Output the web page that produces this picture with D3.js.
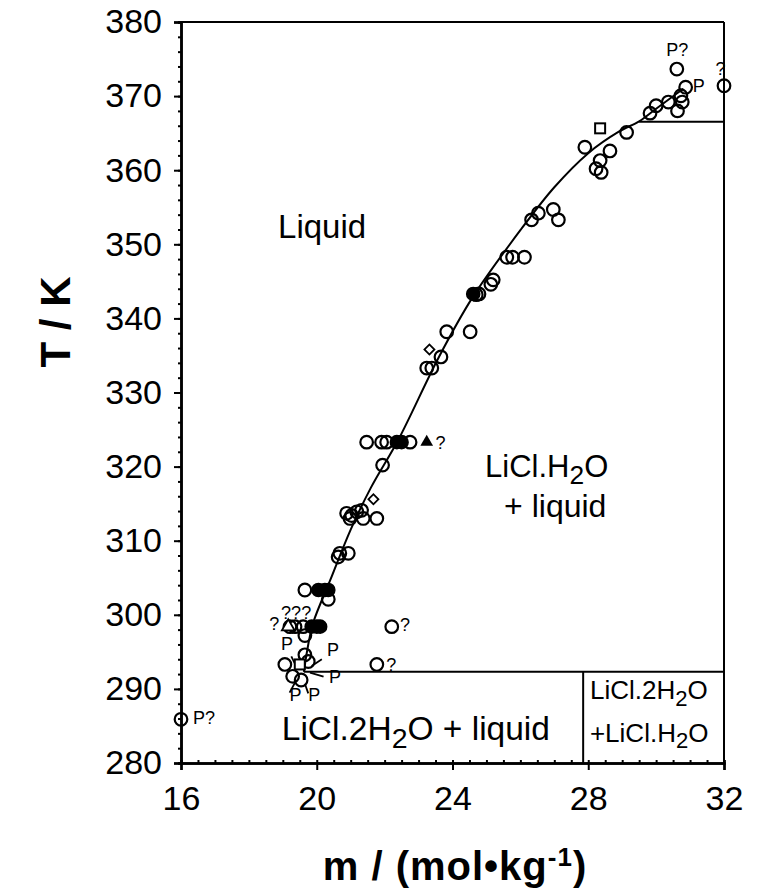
<!DOCTYPE html>
<html><head><meta charset="utf-8">
<script src="https://cdn.jsdelivr.net/npm/d3@7"></script>
<style>body{margin:0;background:#fff}svg{display:block}text{font-family:"Liberation Sans",Arial,sans-serif;fill:#000}</style>
</head><body>
<svg id="c" width="762" height="891"></svg>
<script>
// ---- data (m / mol·kg-1, T / K) ----
const xTicks = [16, 20, 24, 28, 32];
const yTicks = [280, 290, 300, 310, 320, 330, 340, 350, 360, 370, 380];
const openCircles = [
  [16.0,285.9],
  [30.61,373.65],[30.87,371.2],[30.73,370.05],[30.77,369.2],[30.63,368.0],[30.36,369.2],[30.0,368.7],[29.82,367.7],[32.0,371.4],
  [29.13,365.1],[27.9,363.1],[28.64,362.6],[28.35,361.3],[28.23,360.2],[28.38,359.7],
  [26.53,354.2],[26.33,353.3],[26.97,354.7],[27.12,353.3],
  [25.6,348.25],[25.77,348.25],[26.12,348.25],[25.2,345.2],[25.13,344.6],[24.7,343.2],[24.78,343.3],
  [24.52,338.2],[23.83,338.2],[23.66,334.8],[23.24,333.3],[23.39,333.3],
  [21.47,323.3],[21.91,323.3],[22.06,323.3],[22.75,323.3],[21.94,320.2],
  [20.88,313.7],[21.03,313.4],[21.18,313.9],[21.32,314.1],[21.37,313.0],[21.77,313.0],[20.98,313.0],
  [20.68,308.3],[20.93,308.3],[20.63,307.8],
  [19.65,303.35],[20.34,302.1],
  [19.21,298.4],[19.36,298.4],[19.6,298.4],[19.65,297.2],
  [22.21,298.4],[21.77,293.3],
  [19.06,293.3],[19.75,293.7],[19.65,294.6],[19.29,291.7],[19.54,291.2]
];
const filledCircles = [[24.61,343.3],[22.36,323.3],[22.5,323.3],[20.05,303.35],[20.24,303.35],[20.34,303.35],[19.85,298.4],[20.0,298.4],[20.1,298.4]];
const squares = [[28.35,365.65],[19.5,293.3]];
const diamonds = [[23.32,335.8],[21.67,315.6]];
const filledTriangles = [[23.24,323.3]];
const openTriangles = [[19.16,298.4]];
const liquidusCurve = [
  [19.62,292.3],[19.75,296],[19.9,299],[20.4,304.7],[21.0,311.5],[21.6,317.2],[22.4,323.6],
  [23.6,334.8],[24.6,342.9],[26.0,351.9],[27.0,357.7],[28.0,362.3],[28.9,365.2],[29.5,366.6],[30.0,368.3],[30.8,371.0]
];
const phaseLines = [
  [[19.62,292.3],[32,292.3]],
  [[29.5,366.55],[32,366.55]],
  [[27.85,280],[27.85,292.3]]
];
const pointNotes = [
  ["P?",16.35,285.3],["P?",30.3,375.4],["P",31.08,370.5],["?",31.75,372.8],
  ["?",23.5,322.4],["?",22.45,297.8],["?",22.05,292.4],
  ["?",18.6,297.9],["???",18.95,299.5],
  ["P",18.95,295.3],["P",20.3,294.5],["P",20.36,290.8],["P",19.2,288.4],["P",19.75,288.4]
];
const leaderLines = [
  [[19.25,294.4],[19.4,293.0]],
  [[20.15,294.0],[19.85,293.1]],
  [[20.2,291.65],[19.8,292.2]],
  [[19.2,289.5],[19.4,291.2]],
  [[19.75,289.4],[19.65,290.7]]
];

// ---- scales ----
const x = d3.scaleLinear().domain([16,32]).range([181,724]);
const y = d3.scaleLinear().domain([280,380]).range([763,22]);
const svg = d3.select("#c");

// frame (top/right)
svg.append("line").attr("x1",x(16)).attr("x2",x(32)).attr("y1",y(380)).attr("y2",y(380)).attr("stroke","#000").attr("stroke-width",2);
svg.append("line").attr("x1",x(32)).attr("x2",x(32)).attr("y1",y(380)).attr("y2",y(280)).attr("stroke","#000").attr("stroke-width",2);

// axes
const yAx = svg.append("g").attr("transform",`translate(${x(16)},0)`)
  .call(d3.axisLeft(y).tickValues(yTicks).tickSize(7).tickPadding(12).tickFormat(d3.format("d")));
const yMinor = svg.append("g").attr("transform",`translate(${x(16)},0)`)
  .call(d3.axisLeft(y).tickValues(d3.range(280,381,2)).tickSize(3).tickFormat(""));
const xAx = svg.append("g").attr("transform",`translate(0,${y(280)})`)
  .call(d3.axisBottom(x).tickValues(xTicks).tickSize(7).tickPadding(16).tickFormat(d3.format("d")));
const xMinor = svg.append("g").attr("transform",`translate(0,${y(280)})`)
  .call(d3.axisBottom(x).tickValues(d3.range(16,32.01,0.5)).tickSize(-3).tickFormat(""));
[yAx,yMinor,xAx,xMinor].forEach(g=>{
  g.select(".domain").attr("stroke-width",2.5);
  g.selectAll(".tick line").attr("stroke-width",2);
  g.selectAll(".tick text").style("font-size","34px").style("font-family","'Liberation Sans',Arial,sans-serif");
});

// axis titles
svg.append("text").attr("transform","translate(70,322) rotate(-90)").attr("text-anchor","middle")
  .style("font-size","42px").style("font-weight","bold").text("T / K");
const xt = svg.append("text").attr("x",455).attr("y",880).attr("text-anchor","middle")
  .style("font-size","40px").style("font-weight","bold").attr("letter-spacing","1");
xt.append("tspan").text("m / (mol•kg");
xt.append("tspan").attr("dy",-14).style("font-size","26px").text("-1");
xt.append("tspan").attr("dy",14).text(")");

// phase boundary lines
const line = d3.line().x(d=>x(d[0])).y(d=>y(d[1]));
phaseLines.forEach(p=>svg.append("path").attr("d",line(p)).attr("stroke","#000").attr("stroke-width",2).attr("fill","none"));
const curveLine = d3.line().x(d=>x(d[0])).y(d=>y(d[1])).curve(d3.curveCatmullRom);
svg.append("path").attr("d",curveLine(liquidusCurve)).attr("stroke","#000").attr("stroke-width",2).attr("fill","none");
leaderLines.forEach(p=>svg.append("path").attr("d",line(p)).attr("stroke","#000").attr("stroke-width",1.8));

// markers
svg.append("g").selectAll("circle").data(openCircles).join("circle")
  .attr("cx",d=>x(d[0])).attr("cy",d=>y(d[1])).attr("r",6.3).attr("fill","none").attr("stroke","#000").attr("stroke-width",2.2);
svg.append("g").selectAll("circle").data(filledCircles).join("circle")
  .attr("cx",d=>x(d[0])).attr("cy",d=>y(d[1])).attr("r",6.3).attr("fill","#000").attr("stroke","#000").attr("stroke-width",2);
svg.append("g").selectAll("rect").data(squares).join("rect")
  .attr("x",d=>x(d[0])-5).attr("y",d=>y(d[1])-5).attr("width",10).attr("height",10).attr("fill","#fff").attr("stroke","#000").attr("stroke-width",2);
const sym = (type,size)=>d3.symbol().type(type).size(size)();
svg.append("g").selectAll("path").data(diamonds).join("path")
  .attr("transform",d=>`translate(${x(d[0])},${y(d[1])}) rotate(45)`).attr("d",sym(d3.symbolSquare,50))
  .attr("fill","#fff").attr("stroke","#000").attr("stroke-width",1.8);
svg.append("g").selectAll("path").data(filledTriangles).join("path")
  .attr("transform",d=>`translate(${x(d[0])},${y(d[1])})`).attr("d",sym(d3.symbolTriangle,70)).attr("fill","#000");
svg.append("g").selectAll("path").data(openTriangles).join("path")
  .attr("transform",d=>`translate(${x(d[0])},${y(d[1])})`).attr("d",sym(d3.symbolTriangle,70))
  .attr("fill","#fff").attr("stroke","#000").attr("stroke-width",1.8);

// point notes
svg.append("g").selectAll("text").data(pointNotes).join("text")
  .attr("x",d=>x(d[1])).attr("y",d=>y(d[2])).style("font-size","18px").text(d=>d[0]);

// region labels
function regionLabel(parts,m,T,size){
  const t = svg.append("text").attr("x",x(m)).attr("y",y(T)).style("font-size",size+"px");
  let pendingDy = 0;
  parts.forEach(p=>{
    if(typeof p === "object"){
      t.append("tspan").attr("dy",size*0.24).style("font-size",(size*0.85)+"px").text(p.sub);
      pendingDy = -size*0.24;
    } else {
      const s = t.append("tspan").text(p);
      if(pendingDy){ s.attr("dy",pendingDy); pendingDy = 0; }
    }
  });
}
regionLabel(["Liquid"],18.86,350.85,33);
regionLabel(["LiCl.H",{sub:"2"},"O"],24.96,318.6,31);
regionLabel(["+ liquid"],25.52,313.2,32);
regionLabel(["LiCl.2H",{sub:"2"},"O + liquid"],18.97,283.1,33.5);
regionLabel(["LiCl.2H",{sub:"2"},"O"],28.05,288.6,26);
regionLabel(["+LiCl.H",{sub:"2"},"O"],28.05,282.9,26);
</script>
</body></html>
